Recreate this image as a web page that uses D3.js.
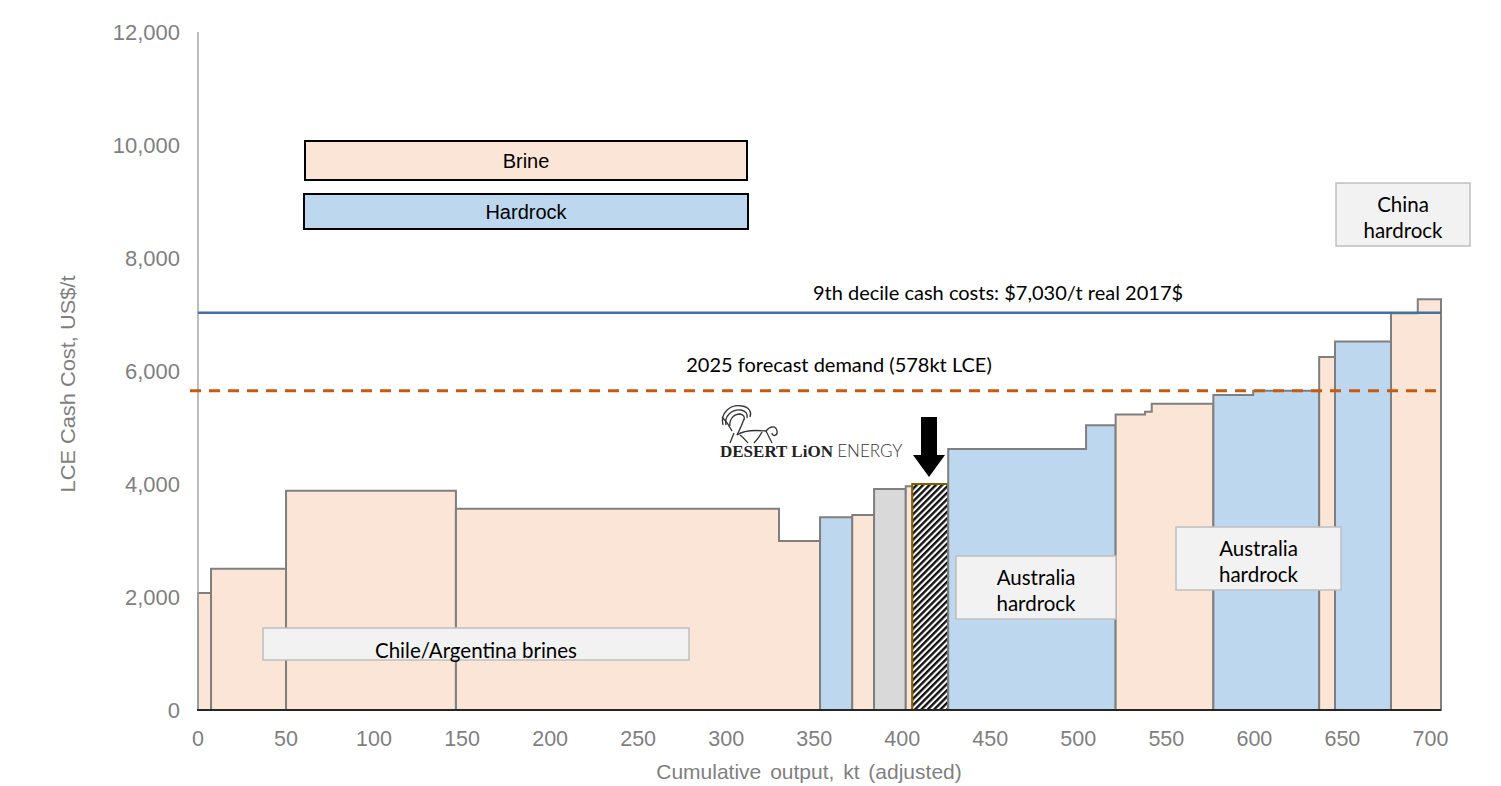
<!DOCTYPE html>
<html>
<head>
<meta charset="utf-8">
<script src="https://cdn.jsdelivr.net/npm/d3@7"></script>
<style>
  html, body { margin: 0; padding: 0; background: #fff; }
  svg { display: block; }
</style>
</head>
<body>
<svg id="chart" width="1501" height="786"></svg>
<script>
// supply curve steps: cumulative output where each step ends (kt), cash cost (US$/t)
const stepEnds = [7.4, 50, 146.5, 330, 353.3, 371.6, 384, 402, 405.7, 426.1, 504.4, 521.2, 537.9, 541.7, 576.7, 599.3, 636.8, 645.8, 677.6, 692.8, 706];
const stepCosts = [2070, 2500, 3880, 3560, 2990, 3410, 3450, 3910, 3960, 4000, 4620, 5040, 5230, 5280, 5420, 5575, 5650, 6250, 6520, 7020, 7270];
const stepTypes = ["brine", "brine", "brine", "brine", "brine", "hardrock", "brine", "other", "brine", "desertlion", "hardrock", "hardrock", "brine", "brine", "brine", "hardrock", "hardrock", "brine", "hardrock", "brine", "brine"];
// true when a step belongs to the same operation as the one before it (no divider)
const stepJoined = [false, false, false, false, true, false, false, false, false, false, false, true, false, true, true, false, true, false, false, false, true];

const yTicks = [0, 2000, 4000, 6000, 8000, 10000, 12000];
const xTicks = [0, 50, 100, 150, 200, 250, 300, 350, 400, 450, 500, 550, 600, 650, 700];

const decileCost = 7030;
const demandCost = 5650;
const decileLabel = "9th decile cash costs: $7,030/t real 2017$";
const demandLabel = "2025 forecast demand (578kt LCE)";

const fills = {
  brine: "#fbe5d6",
  hardrock: "#bdd7ee",
  other: "#d9d9d9",
  desertlion: "url(#hatch)",
};

const svg = d3.select("#chart");
const x = d3.scaleLinear().domain([0, 706]).range([198, 1441]);
const y = d3.scaleLinear().domain([0, 12000]).range([710, 32]);

const defs = svg.append("defs");
const hatch = defs
  .append("pattern")
  .attr("id", "hatch")
  .attr("patternUnits", "userSpaceOnUse")
  .attr("width", 4.5)
  .attr("height", 4.5)
  .attr("patternTransform", "rotate(45)");
hatch.append("rect").attr("width", 4.5).attr("height", 4.5).attr("fill", "#fff");
hatch.append("line").attr("x1", 1.2).attr("y1", 0).attr("x2", 1.2).attr("y2", 4.5).attr("stroke", "#111").attr("stroke-width", 2.4);

// group steps into operations
const groups = [];
let start = 0;
stepEnds.forEach((end, i) => {
  if (!stepJoined[i]) {
    groups.push({ type: stepTypes[i], steps: [] });
  }
  groups[groups.length - 1].steps.push({ x0: start, x1: end, cost: stepCosts[i] });
  start = end;
});

function groupPath(group) {
  const first = group.steps[0];
  const last = group.steps[group.steps.length - 1];
  const path = d3.path();
  path.moveTo(x(first.x0), y(0));
  for (const step of group.steps) {
    path.lineTo(x(step.x0), y(step.cost));
    path.lineTo(x(step.x1), y(step.cost));
  }
  path.lineTo(x(last.x1), y(0));
  path.closePath();
  return path.toString();
}

svg
  .append("g")
  .attr("class", "bars")
  .selectAll("path")
  .data(groups)
  .join("path")
  .attr("d", (group) => groupPath(group))
  .attr("fill", (group) => fills[group.type])
  .attr("stroke", (group) => (group.type === "desertlion" ? "#7f6000" : "#7f7f7f"))
  .attr("stroke-width", 2)
  .attr("stroke-linejoin", "miter");

// axes
const axisFont = "'Liberation Sans', Arial, sans-serif";

svg
  .append("line")
  .attr("x1", x(0))
  .attr("x2", x(0))
  .attr("y1", y(12000))
  .attr("y2", y(0))
  .attr("stroke", "#a6a6a6")
  .attr("stroke-width", 1.5);

svg
  .append("line")
  .attr("x1", x(0) - 1)
  .attr("x2", x(706))
  .attr("y1", y(0))
  .attr("y2", y(0))
  .attr("stroke", "#262626")
  .attr("stroke-width", 2);

svg
  .append("g")
  .selectAll("text")
  .data(yTicks)
  .join("text")
  .attr("x", 180)
  .attr("y", (d) => y(d))
  .attr("dy", "0.36em")
  .attr("text-anchor", "end")
  .attr("font-family", axisFont)
  .attr("font-size", 22)
  .attr("fill", "#7f7f7f")
  .text((d) => d3.format(",")(d));

svg
  .append("g")
  .selectAll("text")
  .data(xTicks)
  .join("text")
  .attr("x", (d) => x(d))
  .attr("y", 746)
  .attr("text-anchor", "middle")
  .attr("font-family", axisFont)
  .attr("font-size", 21.5)
  .attr("fill", "#7f7f7f")
  .text((d) => d);

svg
  .append("text")
  .attr("x", 809)
  .attr("y", 779)
  .attr("text-anchor", "middle")
  .attr("font-family", axisFont)
  .attr("font-size", 21)
  .attr("word-spacing", 3)
  .attr("fill", "#7f7f7f")
  .text("Cumulative output, kt (adjusted)");

svg
  .append("text")
  .attr("transform", "translate(75,384) rotate(-90)")
  .attr("text-anchor", "middle")
  .attr("font-family", axisFont)
  .attr("font-size", 21)
  .attr("textLength", 217)
  .attr("lengthAdjust", "spacingAndGlyphs")
  .attr("fill", "#7f7f7f")
  .text("LCE Cash Cost, US$/t");

// reference lines
svg
  .append("line")
  .attr("x1", x(0))
  .attr("x2", x(706))
  .attr("y1", y(decileCost))
  .attr("y2", y(decileCost))
  .attr("stroke", "#44719f")
  .attr("stroke-width", 2.5);

svg
  .append("line")
  .attr("x1", x(0) - 8)
  .attr("x2", x(706))
  .attr("y1", y(demandCost))
  .attr("y2", y(demandCost))
  .attr("stroke", "#c55a11")
  .attr("stroke-width", 3)
  .attr("stroke-dasharray", "11,8");

const boxFont = "Lato, 'Open Sans', sans-serif";

svg
  .append("text")
  .attr("x", 998)
  .attr("y", 300)
  .attr("text-anchor", "middle")
  .attr("font-family", boxFont)
  .attr("font-size", 20)
  .attr("fill", "#000")
  .text(decileLabel);

svg
  .append("text")
  .attr("x", 839)
  .attr("y", 372)
  .attr("text-anchor", "middle")
  .attr("font-family", boxFont)
  .attr("font-size", 20)
  .attr("fill", "#000")
  .text(demandLabel);

// legend boxes
const legend = [
  { label: "Brine", fill: fills.brine, x: 305, y: 141, w: 442, h: 39 },
  { label: "Hardrock", fill: fills.hardrock, x: 304, y: 194, w: 444, h: 35 },
];

const legendItems = svg.append("g").selectAll("g").data(legend).join("g");
legendItems
  .append("rect")
  .attr("x", (d) => d.x)
  .attr("y", (d) => d.y)
  .attr("width", (d) => d.w)
  .attr("height", (d) => d.h)
  .attr("fill", (d) => d.fill)
  .attr("stroke", "#000")
  .attr("stroke-width", 2);
legendItems
  .append("text")
  .attr("x", (d) => d.x + d.w / 2)
  .attr("y", (d) => d.y + d.h / 2)
  .attr("dy", "0.36em")
  .attr("text-anchor", "middle")
  .attr("font-family", axisFont)
  .attr("font-size", 20)
  .attr("fill", "#000")
  .text((d) => d.label);

// region annotation boxes
const notes = [
  { lines: ["Chile/Argentina brines"], x: 263, y: 628, w: 426, h: 32, ty: 658 },
  { lines: ["Australia", "hardrock"], x: 956, y: 556, w: 160, h: 63, ty: 585 },
  { lines: ["Australia", "hardrock"], x: 1176, y: 527, w: 165, h: 63, ty: 556 },
  { lines: ["China", "hardrock"], x: 1336, y: 183, w: 134, h: 63, ty: 212 },
];

const noteItems = svg.append("g").selectAll("g").data(notes).join("g");
noteItems
  .append("rect")
  .attr("x", (d) => d.x)
  .attr("y", (d) => d.y)
  .attr("width", (d) => d.w)
  .attr("height", (d) => d.h)
  .attr("fill", "#f2f2f2")
  .attr("stroke", "#bfbfbf")
  .attr("stroke-width", 1.5);
noteItems
  .selectAll("text")
  .data((d) => d.lines.map((line, i) => ({ line, cx: d.x + d.w / 2, y: d.ty + i * 26 })))
  .join("text")
  .attr("x", (d) => d.cx)
  .attr("y", (d) => d.y)
  .attr("text-anchor", "middle")
  .attr("font-family", boxFont)
  .attr("font-size", 20.5)
  .attr("fill", "#000")
  .text((d) => d.line);

// arrow pointing at Desert Lion
svg
  .append("path")
  .attr("d", "M921,417 L937,417 L937,455 L945,455 L929,477 L913,455 L921,455 Z")
  .attr("fill", "#000");

// logo
const logo = svg.append("g").attr("transform", "translate(720,403)");
const lionLines = [
  "M3,22 C0,10 10,1 22,3 C29,4 32,9 30,14",
  "M6,22 C4,13 12,6 21,7 C26,8 28,11 27,15",
  "M10,23 C9,16 14,11 20,11 C24,12 25,14 24,17",
  "M2,14 C6,18 9,22 12,28",
  "M24,16 C22,22 20,26 17,32",
  "M17,32 C24,27 36,27 46,28 C50,23 56,22 57,28 C58,33 52,34 52,30",
  "M14,30 L10,40",
  "M20,32 C24,35 26,38 28,40",
  "M42,29 C40,33 37,37 34,40",
  "M46,28 C48,32 50,36 52,40",
];
logo
  .selectAll("path")
  .data(lionLines)
  .join("path")
  .attr("d", (d) => d)
  .attr("fill", "none")
  .attr("stroke", "#333")
  .attr("stroke-width", 1.3);

const logoText = svg
  .append("text")
  .attr("x", 720)
  .attr("y", 457)
  .attr("font-size", 17);

logoText
  .append("tspan")
  .attr("font-family", "'Liberation Serif', serif")
  .attr("font-weight", "bold")
  .attr("fill", "#222")
  .text("DESERT LiON ");

logoText
  .append("tspan")
  .attr("font-family", "Lato, 'Open Sans', sans-serif")
  .attr("font-weight", 300)
  .attr("fill", "#333")
  .text("ENERGY");
</script>
</body>
</html>
